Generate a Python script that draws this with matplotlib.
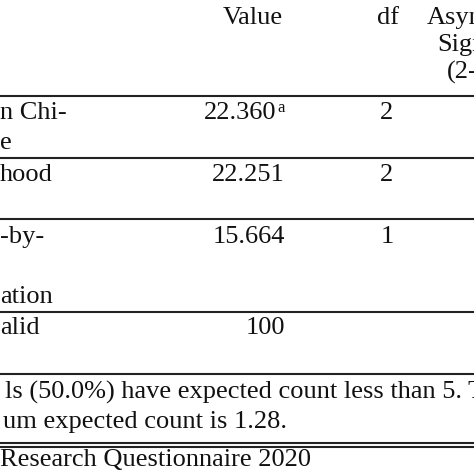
import matplotlib
matplotlib.use('Agg')
import matplotlib.pyplot as plt

# Table content (cropped view of a chi-square test table)
headers = [('Value', 253, 18, 'center'), ('df', 388, 18, 'center'),
           ('Asym', 427, 18, 'left'), ('Signifi', 437, 45, 'left'),
           ('(2-si', 447, 72, 'left')]
row_labels = [('n Chi-', 113), ('e', 143), ('hood', 175), ('-by-', 237),
              ('ation', 297), ('alid', 328)]
values = ['22.360', '22.251', '15.664', '100']
value_rows = [113, 175, 237, 328]
dfs = ['2', '2', '1']
notes = [('ls (50.0%) have expected count less than 5. T', 5, 392),
         ('um expected count is 1.28.', 3, 422),
         ('Research Questionnaire 2020', 0, 460)]
rule_ys = [96, 158, 219, 312, 374, 443, 447]

W = H = 474
fig = plt.figure(figsize=(4.74, 4.74), dpi=100)
ax = fig.add_axes([0, 0, 1, 1])
ax.set_xlim(0, W)
ax.set_ylim(H, 0)
ax.axis('off')

font = dict(family='Liberation Serif', fontsize=19, color='#111111')

for txt, x, y, ha in headers:
    ax.text(x, y, txt, ha=ha, va='center', **font)
for txt, y in row_labels:
    ax.text(0, y, txt, ha='left', va='center', **font)
for i, (v, y) in enumerate(zip(values, value_rows)):
    if i == 0:
        ax.text(276, y, v, ha='right', va='center', **font)
        ax.text(277, y - 5, 'a', ha='left', va='center',
                family='Liberation Serif', fontsize=12, color='#111111')
    else:
        ax.text(285, y, v, ha='right', va='center', **font)
for d, y in zip(dfs, value_rows):
    ax.text(387, y, d, ha='center', va='center', **font)
for txt, x, y in notes:
    ax.text(x, y, txt, ha='left', va='center', **font)

for y in rule_ys:
    ax.plot([0, W], [y, y], color='#222222', lw=1.5)

fig.savefig('out.png', dpi=100)
